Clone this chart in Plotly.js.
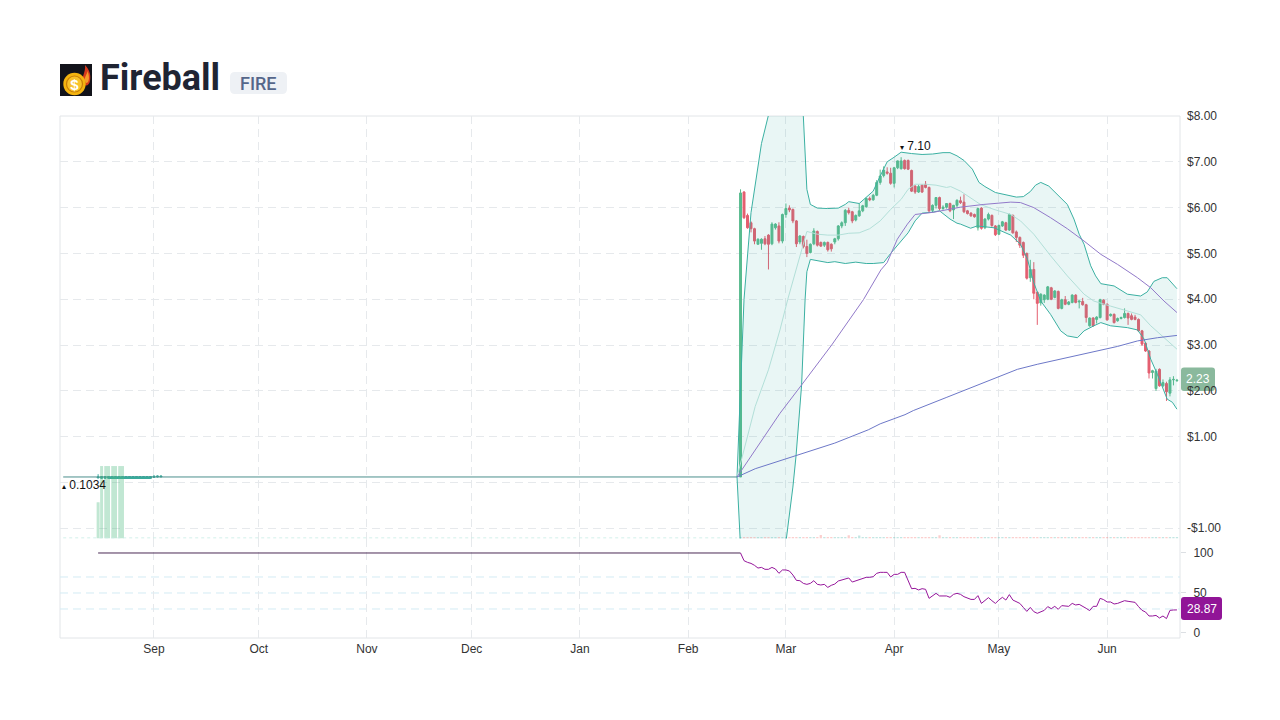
<!DOCTYPE html>
<html>
<head>
<meta charset="utf-8">
<script src="https://cdn.plot.ly/plotly-3.0.1.min.js"></script>
<style>html,body{margin:0;padding:0;background:#fff}#chart{width:1280px;height:720px}</style>
</head>
<body>
<div id="chart"></div>
<script>
// ---------- text ----------
const coinName = 'Fireball';
const coinTicker = 'FIRE';
const monthTicks = ['2020-09-01','2020-10-01','2020-11-01','2020-12-01','2021-01-01','2021-02-01','2021-03-01','2021-04-01','2021-05-01','2021-06-01'];
const monthLabels = ['Sep','Oct','Nov','Dec','Jan','Feb','Mar','Apr','May','Jun'];
const priceTicks = [8,7,6,5,4,3,2,1,0,-1];
const priceLabels = ['$8.00','$7.00','$6.00','$5.00','$4.00','$3.00','$2.00','$1.00','','-$1.00'];
const rsiTicks = [100,50,0];
const lastPrice = 2.23, lastRsi = 28.87, highPrice = 7.10, lowPriceText = '0.1034';

// ---------- early trading (Aug 16 - Sep 3 2020) ----------
const earlyOpen  = [.10,.09,.09,.09,.09,.09,.09,.09,.09,.09,.09,.09,.09,.09,.09,.09,.11,.12,.12];
const earlyHigh  = [.18,.14,.13,.13,.13,.13,.13,.13,.13,.13,.13,.13,.13,.13,.13,.14,.15,.15,.14];
const earlyLow   = [.09,.09,.09,.09,.09,.09,.09,.09,.09,.09,.09,.09,.09,.09,.09,.09,.11,.11,.12];
const earlyClose = [.12,.13,.13,.13,.13,.13,.13,.13,.13,.13,.13,.13,.13,.13,.13,.13,.14,.14,.14];
const earlyBodyDates = ['2020-08-19','2020-08-31'];
const earlyBody = [.105,.105];

// ---------- daily candles from Feb 16 2021 ----------
const opens = [.12,6.34,5.83,5.67,5.54,5.2,5.22,5.32,5.40,5.21,5.56,5.60,5.27,5.85,5.99,5.96,5.71,5.25,5.37,5.15,
5.02,5.21,5.48,5.24,5.18,5.24,5.2,5.25,5.32,5.6,5.67,5.94,5.91,5.73,5.82,5.93,6.02,6.2,6.17,6.27,
6.55,6.7,6.78,6.75,6.53,6.87,6.85,7.03,7.03,6.81,6.47,6.34,6.49,6.51,6.44,5.94,6.05,6.22,5.98,6.01,
6.09,5.95,6.05,6.15,6.12,5.93,5.88,5.85,5.56,5.99,5.56,5.75,5.83,5.6,5.42,5.6,5.67,5.51,5.83,5.47,
5.35,5.24,5.0,4.47,4.65,4.15,3.92,3.99,4.0,4.25,4.04,4.17,3.8,3.99,3.89,3.93,4.09,3.94,3.95,3.88,
3.42,3.59,3.56,3.6,3.98,3.89,3.64,3.67,3.53,3.58,3.6,3.69,3.64,3.61,3.56,3.31,3.04,2.87,2.4,2.05,
2.47,2.11,2.16,1.95,2.24,2.22];
const highs = [6.4,6.36,5.87,5.70,5.56,5.33,5.33,5.38,5.42,5.68,5.66,5.68,5.87,6.09,6.05,5.98,5.73,5.4,5.39,5.3,
5.22,5.55,5.5,5.26,5.26,5.26,5.22,5.34,5.62,5.7,5.97,6.0,5.93,5.85,6.09,6.06,6.22,6.24,6.3,6.6,
6.83,6.9,6.88,6.87,6.89,7.03,7.1,7.05,7.05,6.83,6.49,6.5,6.51,6.58,6.46,6.07,6.23,6.24,6.05,6.1,
6.11,6.06,6.18,6.24,6.29,5.95,5.9,5.87,6.0,6.01,5.77,5.89,5.85,5.62,5.63,5.71,5.69,5.87,5.85,5.5,
5.37,5.26,5.02,4.86,4.81,4.17,4.13,4.11,4.29,4.27,4.2,4.19,4.01,4.07,3.96,4.11,4.11,3.97,4.03,3.9,
3.6,3.61,3.63,4.01,4.0,3.91,3.69,3.69,3.6,3.62,3.8,3.71,3.69,3.66,3.58,3.33,3.06,2.89,2.46,2.48,
2.49,2.25,2.2,2.3,2.32,2.26];
const lows = [.12,5.75,5.54,5.46,5.2,5.2,5.08,5.18,4.65,5.18,5.52,5.22,5.22,5.78,5.9,5.66,5.14,5.2,5.11,4.92,
5.0,5.18,5.15,5.14,5.14,5.04,5.04,5.2,5.28,5.55,5.6,5.85,5.66,5.7,5.8,5.9,6.0,6.14,6.15,6.25,
6.5,6.66,6.72,6.5,6.44,6.84,6.83,6.83,6.82,6.34,6.3,6.32,6.32,6.42,5.88,5.9,5.98,5.94,5.95,5.98,
5.9,5.75,6.0,6.08,5.88,5.85,5.8,5.78,5.5,5.52,5.53,5.72,5.58,5.38,5.4,5.58,5.49,5.49,5.43,5.25,
5.12,4.9,4.43,4.38,4.0,3.44,3.86,3.92,3.98,3.98,4.02,3.78,3.78,3.87,3.87,3.91,3.91,3.8,3.86,3.49,
3.4,3.4,3.47,3.58,3.87,3.53,3.62,3.47,3.51,3.56,3.58,3.44,3.54,3.54,3.29,2.98,2.85,2.27,2.27,2.0,
2.09,2.08,1.78,1.88,2.12,2.2];
const closes = [6.32,5.78,5.56,5.54,5.27,5.31,5.31,5.21,5.2,5.64,5.64,5.27,5.85,5.98,5.95,5.71,5.21,5.38,5.15,5.0,
5.2,5.49,5.18,5.16,5.24,5.08,5.1,5.32,5.6,5.67,5.94,5.89,5.71,5.83,5.93,6.04,6.2,6.17,6.27,6.55,
6.69,6.82,6.75,6.53,6.87,7.02,7.02,6.85,6.84,6.36,6.34,6.46,6.34,6.44,5.93,6.05,6.22,5.98,6.01,6.09,
5.93,6.05,6.16,6.11,5.91,5.87,5.82,5.80,5.98,5.55,5.75,5.85,5.61,5.41,5.61,5.69,5.51,5.85,5.45,5.35,
5.18,4.96,4.46,4.65,4.13,3.91,4.11,4.09,4.27,4.0,4.18,3.8,3.99,3.89,3.94,4.09,3.93,3.96,3.88,3.6,
3.59,3.42,3.61,3.99,3.89,3.55,3.67,3.49,3.58,3.6,3.69,3.59,3.56,3.56,3.31,3.02,2.87,2.39,2.44,2.43,
2.11,2.18,1.98,2.24,2.25,2.23];

// ---------- volume (relative, clipped at 1) ----------
const earlyVolumeDates = ['2020-08-16','2020-08-17','2020-08-18T14:00','2020-08-20T14:00','2020-08-22T14:00'];
const earlyVolume = [.5,1,1,1,1];
const quietVolumeDates = ['2020-08-06','2021-02-15'];
const quietVolume = [.007,.007];
const volume = [.02,.02,.02,.02,.02,.02,.02,.02,.02,.02,.02,.02,.02,.02,.02,.02,.02,.02,.02,.02,
.02,.02,.02,.05,.02,.02,.02,.02,.02,.02,.02,.045,.02,.02,.04,.02,.02,.02,.02,.02,
.02,.02,.02,.02,.02,.02,.02,.02,.02,.02,.02,.02,.02,.02,.02,.02,.02,.045,.02,.02,
.02,.02,.02,.02,.02,.02,.02,.02,.02,.02,.02,.02,.02,.02,.02,.02,.02,.02,.02,.02,
.02,.02,.02,.02,.02,.02,.02,.02,.02,.02,.02,.02,.02,.02,.02,.02,.02,.02,.02,.02,
.02,.02,.02,.02,.02,.02,.02,.02,.02,.02,.02,.02,.02,.02,.02,.02,.02,.02,.02,.02,
.02,.02,.02,.02,.02,.02];

// ---------- flat line before the jump ----------
const flatDates = ['2020-08-06','2021-02-15'];
const flatPrice = [.12,.12];

// ---------- bollinger bands (day offset from Feb 16 2021, value) ----------
const upperDays = [-1,0,1,3,4,6,8,10,13,16,17,18,19,20,22,25,28,30,31,34,36,38,40,42,44,46,49,52,55,58,60,62,64,66.4,68.3,70,73,76.4,79,81,83,84.5,86,88.3,90.7,93.6,95.5,97,98.4,100.3,101.7,103.2,107,110.8,114.6,116.5,118.4,120.8,122.2,125];
const upperBand = [.12,2,4,5.89,6.4,7.4,8.02,9.5,10,9,8.6,7.98,6.4,6.07,5.99,5.98,5.99,6.07,6.13,6.09,6.22,6.36,6.69,7.0,7.1,7.21,7.18,7.16,7.17,7.2,7.2,7.13,7.03,6.84,6.55,6.46,6.33,6.27,6.23,6.24,6.35,6.49,6.55,6.47,6.29,6.07,5.75,5.42,5.2,4.73,4.51,4.34,4.29,4.11,4.07,4.16,4.39,4.47,4.47,4.23];
const lowerDays = [-1,0,5,9,11,13,15,15.9,17.5,18.5,19,20,22,25,27,30,33,36,38,41,43,46,48,50,52,55,57,60,62,63,65.9,67.8,72.6,77.4,80.2,82.2,84,86,88.8,91.7,93.6,96.5,98.4,101.2,103.2,106,110.8,113.7,115.6,117.5,119.4,122.2,123.7,125];
const lowerBand = [.12,-1.4,-2.5,-3,-2.5,-1.3,-.1,.58,2.13,4,4.6,4.87,4.84,4.8,4.82,4.78,4.81,4.78,4.78,4.8,5.0,5.27,5.45,5.71,5.88,5.9,5.93,5.75,5.66,5.64,5.55,5.6,5.56,5.4,5.2,4.87,4.36,3.96,3.67,3.31,3.2,3.16,3.31,3.42,3.49,3.42,3.38,3.33,3.13,2.69,2.36,1.82,1.75,1.6];
const middleDays = [-1,4.2,8,11.3,13.5,15.9,19,20,22,25,28,31,34,37,40,43,46,48,50,53,56,59,60.2,63,65.9,68.7,72.6,77.4,80.2,84,88.8,93.6,98.4,101.2,106,110.8,114.6,117.5,121.3,125];
const middleBand = [.12,1.66,2.46,3.33,3.99,4.64,5.48,5.46,5.42,5.4,5.4,5.44,5.45,5.54,5.71,5.96,6.18,6.4,6.51,6.51,6.49,6.44,6.46,6.36,6.22,6.07,5.96,5.85,5.71,5.42,4.95,4.51,4.11,3.96,3.85,3.75,3.66,3.42,3.16,2.91];

// ---------- moving averages ----------
const ma50Days = [-1,11.3,17.5,26.1,35.2,40.2,42,44.9,47.8,50,55.4,63,69.7,77.4,80.2,84,88.8,93.6,98.4,103.2,108,113.7,117.5,121.3,125];
const ma50 = [.12,1.51,2.13,3.0,3.99,4.64,4.8,5.31,5.64,5.85,5.9,6.01,6.07,6.12,6.11,6.0,5.78,5.54,5.27,4.98,4.76,4.47,4.25,3.96,3.71];
const ma200Days = [-1,4.2,15.6,27,36.6,40,47.1,49.5,59.1,68.6,72.6,79.3,85,93.6,101.2,108,113.7,119.4,125];
const ma200 = [.12,.3,.58,.86,1.15,1.28,1.48,1.57,1.86,2.14,2.27,2.47,2.58,2.73,2.86,2.97,3.09,3.16,3.21];

// ---------- RSI ----------
const rsiFlatDates = ['2020-08-16','2021-02-16'];
const rsiFlat = [100,100];
const rsi = [100,90.4,88.3,87,84.6,81.2,82,79.6,79.6,82,80,74.6,78.8,78.8,77.5,72.5,65.8,65.4,62,60.8,
62,65.4,60.8,60,60.8,57,59.6,61.2,65,66.2,68.3,68.8,63.7,65,66.2,67.5,69.6,69.6,70.4,74.6,
75.8,75.8,75.8,70,73.3,73.3,75.8,75.8,66.2,55.4,55.8,53.8,55.4,54.6,43.3,46.3,49.6,46.3,46.7,46.3,
44.6,48.3,49.6,48.3,45.4,43.3,42,42,46.7,37,41.2,44.2,40.4,37,41.2,44.6,41.2,48,41.2,39,
37,32,27,32,26.7,24.6,26,28.3,33,30.4,33.3,29.6,34.2,33.3,33.3,37,35,35.8,33.75,30.8,
28,33.3,33.3,43.3,41.7,38.75,38.75,36.25,37,38.75,40.4,39.6,38.75,38.3,33,28.3,26.25,21.25,21.25,22,
18.75,21.25,18,28.3,28.75,28.87];

// ---------- helpers ----------
const DAY = 86400000, base = Date.UTC(2021,1,16);
const toDate = d => new Date(base + d*DAY).toISOString();
const dayIndex = closes.map((_, i) => toDate(i));
const earlyDates = earlyClose.map((_, i) => new Date(Date.UTC(2020,7,16) + i*DAY).toISOString());

const UP='#5abb8f', DOWN='#e45f70', TEAL='#3bb0a2';
const SANS='"Liberation Sans", Arial, sans-serif', ROBOTO='Roboto, sans-serif';
// pixel -> paper helpers for page furniture
const px = v => (v-60)/1120, py = v => (638-v)/522;
function roundBox(x0,y0,x1,y1,r,color,layer){
  const p = `M${px(x0+r)},${py(y0)} L${px(x1-r)},${py(y0)} Q${px(x1)},${py(y0)} ${px(x1)},${py(y0+r)} L${px(x1)},${py(y1-r)} Q${px(x1)},${py(y1)} ${px(x1-r)},${py(y1)} L${px(x0+r)},${py(y1)} Q${px(x0)},${py(y1)} ${px(x0)},${py(y1-r)} L${px(x0)},${py(y0+r)} Q${px(x0)},${py(y0)} ${px(x0+r)},${py(y0)} Z`;
  return {type:'path',xref:'paper',yref:'paper',path:p,fillcolor:color,line:{width:0},layer:layer||'above'};
}
const hline = (v,c) => ({type:'line',xref:'paper',x0:0,x1:1,yref:'y2',y0:v,y1:v,layer:'below',line:{color:c,width:1,dash:'8px,5px'}});

const logoSvg = `<svg xmlns="http://www.w3.org/2000/svg" viewBox="0 0 32 32"><rect width="32" height="32" fill="#12131a"/><path d="M23 19C21 13 26 8 25 1C30 6 31 12 30 17C29 22 25 23 23 19Z" fill="#d83a1c"/><path d="M25 17C24 13 27 11 27.5 7C29 11 29.5 14 28.5 17C27.5 19.5 25.5 19.5 25 17Z" fill="#f79a2b"/><circle cx="14.5" cy="20" r="11.2" fill="#f4b40f"/><circle cx="14.5" cy="20" r="8.6" fill="#c97f08"/><circle cx="14.5" cy="20" r="7.4" fill="#f8c22a"/><text x="14.5" y="25.5" font-family="Liberation Sans" font-weight="700" font-size="15" text-anchor="middle" fill="#fff">$</text></svg>`;

const lineCommon = {type:'scatter',mode:'lines',hoverinfo:'skip',showlegend:false};
const traces = [
  // bands
  {...lineCommon,x:lowerDays.map(toDate),y:lowerBand,line:{color:TEAL,width:1}},
  {...lineCommon,x:upperDays.map(toDate),y:upperBand,line:{color:TEAL,width:1},fill:'tonexty',fillcolor:'rgba(38,166,154,0.10)'},
  {...lineCommon,x:middleDays.map(toDate),y:middleBand,line:{color:'#b2dfd8',width:1}},
  // moving averages
  {...lineCommon,x:ma50Days.map(toDate),y:ma50,line:{color:'#9179c9',width:1}},
  {...lineCommon,x:ma200Days.map(toDate),y:ma200,line:{color:'#6d78c8',width:1}},
  // flat line
  {...lineCommon,x:flatDates,y:flatPrice,line:{color:'#4b8f8c',width:1}},
  // candles
  {...lineCommon,x:earlyBodyDates,y:earlyBody,line:{color:'#3aaa9b',width:2.5}},
  {type:'candlestick',x:earlyDates,open:earlyOpen,high:earlyHigh,low:earlyLow,close:earlyClose,hoverinfo:'skip',showlegend:false,whiskerwidth:0,
   increasing:{line:{color:'#3aaa9b',width:1},fillcolor:'#3aaa9b'},decreasing:{line:{color:'#3aaa9b',width:1},fillcolor:'#3aaa9b'}},
  {type:'candlestick',x:dayIndex,open:opens,high:highs,low:lows,close:closes,hoverinfo:'skip',showlegend:false,whiskerwidth:0,
   increasing:{line:{color:UP,width:1},fillcolor:UP},decreasing:{line:{color:DOWN,width:1},fillcolor:DOWN}},
  // volume
  {type:'bar',x:earlyVolumeDates,y:earlyVolume,width:[.85*DAY,.85*DAY,1.65*DAY,1.65*DAY,1.65*DAY],yaxis:'y3',marker:{color:'rgba(76,185,130,0.35)',line:{width:0}},hoverinfo:'skip',showlegend:false},
  {...lineCommon,x:quietVolumeDates,y:quietVolume,yaxis:'y3',line:{color:'#c3eae3',width:1,dash:'3px,3px'}},
  {type:'bar',x:dayIndex,y:volume,yaxis:'y3',marker:{color:closes.map((c,i)=>c>=opens[i]?'rgba(38,166,154,0.28)':'rgba(239,83,80,0.28)'),line:{width:0}},hoverinfo:'skip',showlegend:false},
  // RSI
  {...lineCommon,x:rsiFlatDates,y:rsiFlat,yaxis:'y2',line:{color:'#4a2a55',width:1}},
  {...lineCommon,x:dayIndex,y:rsi,yaxis:'y2',line:{color:'#96169b',width:1}}
];

const GRID='#e6e9ec';
const layout = {
  width:1280,height:720,autosize:false,
  margin:{l:60,r:100,t:116,b:82,pad:0},
  paper_bgcolor:'#fff',plot_bgcolor:'#fff',
  showlegend:false,bargap:.35,barmode:'overlay',boxgap:.2,
  title:{text:coinName,x:100/1280,xref:'container',xanchor:'left',y:1-77/720,yref:'container',yanchor:'middle',
         font:{family:ROBOTO,size:36,weight:700,color:'#1f2433'}},
  xaxis:{type:'date',range:['2020-08-05 02:00','2021-06-21 21:00'],anchor:'y2',
         tickmode:'array',tickvals:monthTicks,ticktext:monthLabels,ticks:'',ticklabelstandoff:2,
         tickfont:{family:SANS,size:12,color:'#333'},
         showgrid:true,gridcolor:GRID,griddash:'8px,5px',gridwidth:1,zeroline:false,showline:false,
         rangeslider:{visible:false},fixedrange:true},
  yaxis:{domain:[.1906,1],range:[-1.223,8],side:'right',anchor:'x',
         tickmode:'array',tickvals:priceTicks,ticktext:priceLabels,ticks:'',ticklabelstandoff:6,
         tickfont:{family:SANS,size:12,color:'#333'},
         showgrid:true,gridcolor:GRID,griddash:'8px,5px',gridwidth:1,zeroline:false,showline:false,fixedrange:true},
  yaxis2:{domain:[0,.18966],range:[-6.25,117.5],side:'right',anchor:'x',
         tickmode:'array',tickvals:rsiTicks,ticks:'outside',ticklen:5,tickcolor:'#dcdfe3',ticklabelstandoff:5,
         tickfont:{family:SANS,size:12,color:'#333'},
         showgrid:false,zeroline:false,showline:false,fixedrange:true},
  yaxis3:{overlaying:'y',range:[0,5.83],visible:false,fixedrange:true},
  shapes:[
    {type:'rect',xref:'paper',yref:'paper',x0:0,x1:1,y0:0,y1:1,line:{color:'#e2e5e8',width:1},layer:'below'},
    hline(70,'#d3ebf4'),hline(50,'#d3ebf4'),hline(30,'#d3ebf4'),
    roundBox(230,72,287,94,5,'#eef1f5'),
    roundBox(1181,367.5,1215,391,3,'rgba(112,170,135,0.82)','below'),
    roundBox(1181,597,1222,620,3,'#911597')
  ],
  images:[{source:'data:image/svg+xml;base64,'+btoa(logoSvg),xref:'paper',yref:'paper',x:px(60),y:py(64),sizex:32/1120,sizey:32/522,sizing:'stretch',xanchor:'left',yanchor:'top',layer:'above'}],
  annotations:[
    {xref:'paper',yref:'paper',x:px(258.5),y:py(83.5),text:coinTicker,showarrow:false,xanchor:'center',yanchor:'middle',font:{family:ROBOTO,size:18,weight:500,color:'#55668a'}},
    {xref:'x',yref:'y',x:'2021-04-02',y:highPrice,yshift:11,text:'<span style="font-size:8px">▾</span> '+highPrice.toFixed(2),showarrow:false,xanchor:'left',yanchor:'middle',font:{family:SANS,size:12,color:'#111'}},
    {xref:'paper',yref:'y',x:px(59.5),y:-.05,text:'<span style="font-size:8px">▴</span> '+lowPriceText,showarrow:false,xanchor:'left',yanchor:'middle',font:{family:SANS,size:12,color:'#111'}},
    {xref:'paper',yref:'paper',x:px(1197.5),y:py(379.5),text:lastPrice.toFixed(2),showarrow:false,xanchor:'center',yanchor:'middle',font:{family:SANS,size:12,color:'#fff'}},
    {xref:'paper',yref:'paper',x:px(1201.5),y:py(609),text:lastRsi.toFixed(2),showarrow:false,xanchor:'center',yanchor:'middle',font:{family:SANS,size:12,color:'#fff'}}
  ]
};
Plotly.newPlot('chart',traces,layout,{displayModeBar:false,staticPlot:true});
</script>
</body>
</html>
